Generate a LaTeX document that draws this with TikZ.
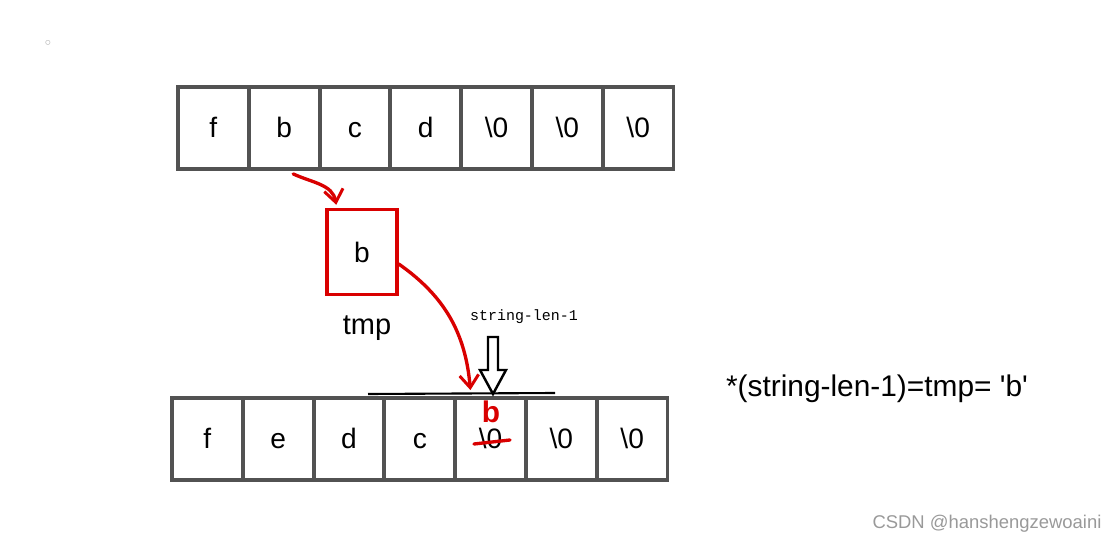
\documentclass[tikz,border=0pt]{standalone}
\usepackage{fontspec}
\setmainfont{Liberation Sans}
\newfontfamily\codefont{Liberation Mono}
\usetikzlibrary{arrows.meta,positioning,calc}

\tikzset{
    celda/.style={draw=black!68, line width=2.2pt, minimum width=1.41cm, minimum height=1.64cm, inner sep=0pt, text height=2.2ex, text depth=0.2ex, font=\fontsize{16}{18}\selectfont},
    flecha/.style={red!85!black, line width=1.9pt, line cap=round, -{Straight Barb[length=2.5mm,width=3.8mm,line width=1.7pt]}}
}

\begin{document}
\begin{tikzpicture}[x=0.02cm, y=-0.02cm]
        \useasboundingbox (0,0) rectangle (1120,544);

        % arreglo de arriba
        \foreach \c [count=\i] in {f,b,c,d,\textbackslash0,\textbackslash0,\textbackslash0} {
            \node[celda] (t\i) at ({178+35.4+70.8*(\i-1)},128) {\c};
        }

        % arreglo de abajo
        \foreach \c [count=\i] in {f,e,d,c,\textbackslash0,\textbackslash0,\textbackslash0} {
            \node[celda] (b\i) at ({172+35.4+70.8*(\i-1)},439) {\c};
        }

        % caja tmp
        \node[draw=red!85!black, line width=2pt, minimum width=1.4cm, minimum height=1.7cm, inner sep=0pt, font=\fontsize{16}{18}\selectfont] (tmp) at (362,252) {b};
        \node[font=\fontsize{16.5}{18}\selectfont] (tmplbl) at (367,328) {tmp};

        % flechas rojas
        \coordinate (p1) at ($(t2.south)+(9,3)$);
        \coordinate (p2) at ($(tmp.north west)+(11,-3)$);
        \draw[flecha] (p1) to[out=-25, in=100] (p2);
        \coordinate (p3) at ($(b5.north west)+(17,-6)$);
        \draw[flecha] ($(tmp.east)+(0,12)$) to[out=-35, in=95] (p3);

        % indice
        \node[font=\codefont\fontsize{8.5}{10}\selectfont] (idx) at (524,317) {string-len-1};
        \coordinate (tip) at (493,394);
        \draw[line width=1.4pt, line join=miter] ($(tip)+(-5,-57)$) -- ($(tip)+(5,-57)$) -- ($(tip)+(5,-24)$) -- ($(tip)+(13,-24)$)
            -- (tip) -- ($(tip)+(-13,-24)$) -- ($(tip)+(-5,-24)$) -- cycle;

        % linea sobre el arreglo
        \draw[line width=1.2pt] (368,394) -- (555,393);

        % la b escrita sobre \0
        \node[text=red!85!black, font=\bfseries\fontsize{17}{18}\selectfont] (nueva) at (491,412) {b};
        \draw[red!85!black, line width=1.9pt, line cap=round] (474,444) -- (510,440);

        % expresion
        \node[font=\fontsize{17}{19}\selectfont] (expr) at (877,389) {*(string-len-1)=tmp=\ \textquotesingle b\textquotesingle};

        % marca de agua
        \node[text=black!40, font=\fontsize{10.5}{12}\selectfont] (csdn) at (987,524) {CSDN @hanshengzewoaini};
        \node[text=black!30, font=\fontsize{6}{7}\selectfont] (punto) at (48,43) {$\circ$};

    \end{tikzpicture}
\end{document}
